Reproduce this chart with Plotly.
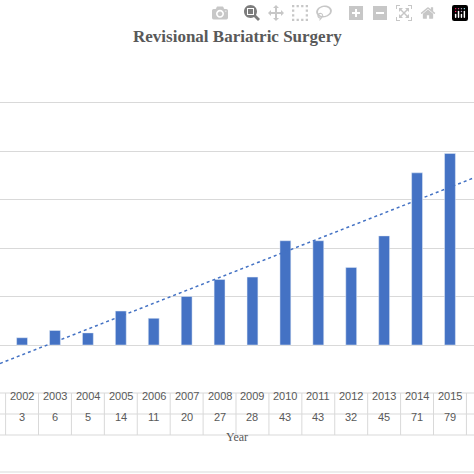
import numpy as np
import plotly.graph_objects as go

years = [2001, 2002, 2003, 2004, 2005, 2006, 2007, 2008, 2009, 2010, 2011, 2012, 2013, 2014, 2015, 2016]
cases = [None, 3, 6, 5, 14, 11, 20, 27, 28, 43, 43, 32, 45, 71, 79, None]
year_labels = ["2001", "2002", "2003", "2004", "2005", "2006", "2007", "2008",
               "2009", "2010", "2011", "2012", "2013", "2014", "2015", "2016"]
y_ticks = [0, 20, 40, 60, 80, 100, 120]

W = H = 474
x_range = [2001.33, 2015.73]
y_range = [-10, 120]

def py(px):
    # pixel row -> paper y
    return 1 - px / H

# linear trend on the known values
kx = [x for x, v in zip(years, cases) if v is not None]
ky = [v for v in cases if v is not None]
slope, icpt = np.polyfit(kx, ky, 1)
tx = np.array(x_range)

fig = go.Figure()
fig.add_trace(go.Bar(x=years, y=cases, width=0.33, marker_color="#4472C4"))
fig.add_trace(go.Scatter(x=tx, y=slope * tx + icpt, mode="lines",
                         line=dict(color="#4472C4", width=1.5, dash="dot")))

grid = "#D9D9D9"
txt = "#595959"
shapes = []
annotations = []
r0, r1, r2 = 393, 414, 435
for px in (r0, r1, r2):
    shapes.append(dict(type="line", xref="paper", yref="paper", x0=0, x1=1,
                       y0=py(px), y1=py(px), line=dict(color=grid, width=1)))
for yr in years:
    shapes.append(dict(type="line", xref="x", yref="paper", x0=yr - 0.5, x1=yr - 0.5,
                       y0=py(r0), y1=py(r2), line=dict(color=grid, width=1)))
for yr, lab, v in zip(years, year_labels, cases):
    annotations.append(dict(x=yr, y=py((r0 + r1) / 2), xref="x", yref="paper", text=lab,
                            showarrow=False, font=dict(family="Liberation Sans", size=11, color=txt)))
    if v is not None:
        annotations.append(dict(x=yr, y=py((r1 + r2) / 2), xref="x", yref="paper", text=str(v),
                                showarrow=False, font=dict(family="Liberation Sans", size=11, color=txt)))
shapes.append(dict(type="line", xref="paper", yref="paper", x0=0, x1=1,
                   y0=py(472), y1=py(472), line=dict(color=grid, width=1)))
annotations.append(dict(x=0.5, y=py(446), xref="paper", yref="paper", text="Year", showarrow=False,
                        font=dict(family="Liberation Serif", size=12, color=txt)))
annotations.append(dict(x=0.5, y=py(25), xref="paper", yref="paper", text="<b>Revisional Bariatric Surgery</b>",
                        showarrow=False, font=dict(family="Liberation Serif", size=17, color=txt)))

fig.update_layout(
    width=W, height=H, margin=dict(l=0, r=0, t=0, b=0),
    plot_bgcolor="white", paper_bgcolor="white", showlegend=False,
    shapes=shapes, annotations=annotations,
)
px_per_unit = (345 - 54) / 120
fig.update_xaxes(range=x_range, showticklabels=False, showgrid=False, zeroline=False)
fig.update_yaxes(range=y_range, tickvals=y_ticks, showticklabels=False,
                 gridcolor=grid, zeroline=False,
                 domain=[py(345 - y_range[0] * px_per_unit), py(54)])

fig.write_html("out.html", post_script="document.body.style.margin='0px';")
